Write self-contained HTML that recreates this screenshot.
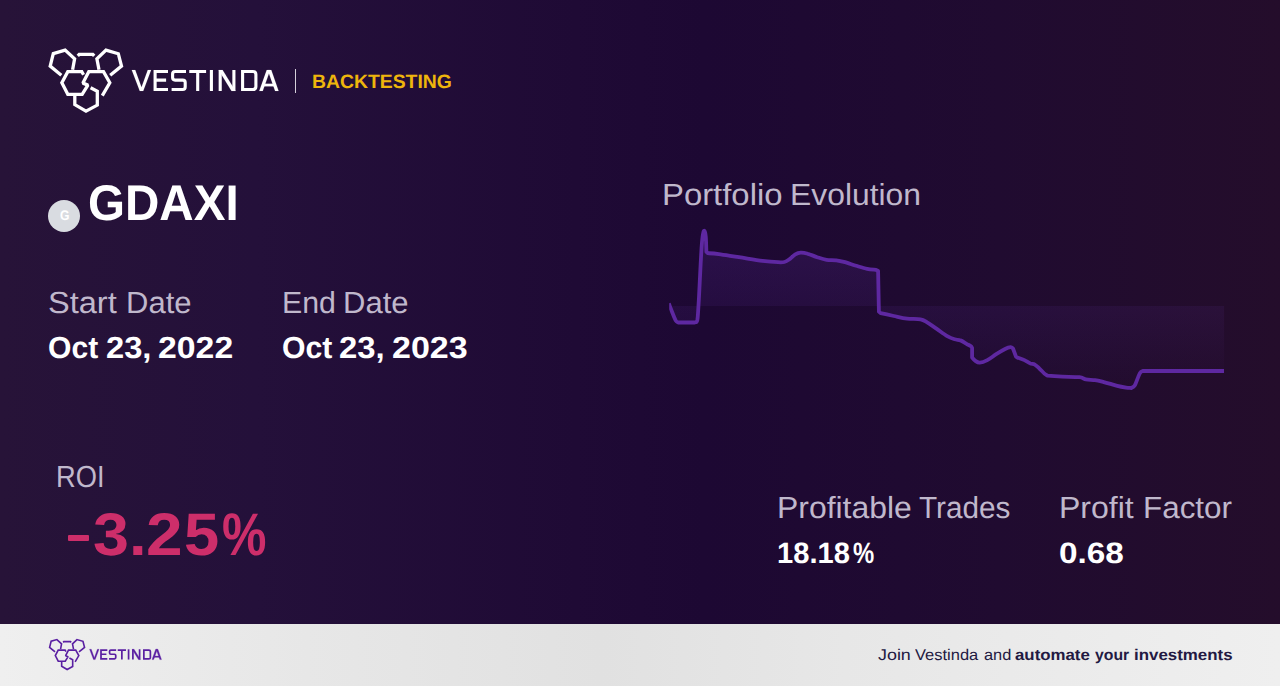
<!DOCTYPE html>
<html>
<head>
<meta charset="utf-8">
<title>Vestinda Backtesting - GDAXI</title>
<style>
*{margin:0;padding:0;box-sizing:border-box;}
html,body{width:1280px;height:686px;overflow:hidden;}
body{font-family:"Liberation Sans",sans-serif;position:relative;
background:linear-gradient(90deg,#271338 0%,#24103a 20%,#1f0a35 45%,#1d0833 55%,#200b30 78%,#240d2b 100%);}
.t{position:absolute;white-space:nowrap;line-height:1;transform-origin:0 0;z-index:2;text-rendering:geometricPrecision;}
.lbl{color:#bdb5c9;font-weight:400;}
.val{color:#ffffff;font-weight:700;}
#footer{position:absolute;left:0;top:624px;width:1280px;height:62px;
background:linear-gradient(90deg,#efefef 0%,#e7e7e7 24%,#e1e1e1 47%,#e7e7e7 66%,#efefef 100%);}
svg{position:absolute;overflow:visible;}
</style>
</head>
<body>

<!-- shared logo symbol -->
<svg width="0" height="0" style="left:0;top:0">
  <defs>
    <g id="vlogo">
      <g fill="none" stroke="currentColor" stroke-width="3.3" stroke-linejoin="miter" stroke-linecap="butt">
        <path d="M61.3 75.2 L50.2 66.1 L53.3 53.6 L65.1 50.1 L74.6 58.9 L72.6 69.7"/>
        <path d="M110.2 75.2 L121.5 66.1 L118.3 53.7 L106.0 50.1 L96.9 58.9 L99.0 69.7"/>
        <path d="M77.8 55.8 L79.2 54.3 L92.8 54.3 L94.2 55.8"/>
        <path stroke-miterlimit="1.3" d="M102.3 95.6 L109.8 82.8 L103.5 71.7 L88.8 71.7 L82.9 83.1 L87.9 85.1 L82.15 94.35 L67.8 94.35 L61.85 82.8 L67.8 71.7 L81.8 71.7 L83.55 74.75"/>
        <path d="M74.8 94.35 L74.8 104.6 L86 111.2 L97.3 105.1 L97.3 91.2 L90.6 87.7"/>
      </g>
      <g fill="currentColor" stroke="currentColor" style="stroke-width:var(--pw,0.1px)" stroke-linejoin="miter">
        <polygon points="131.75,70 135.25,70 141.5,87.25 147.75,70 151.1,70 143.25,91 139.75,91"/>
        <polygon points="218.6,70 222.6,70 235.5,91 231.5,91"/>
        <polygon points="259.25,91 262.75,91 270.2,70 266.7,70"/>
        <polygon points="278.6,91 275.1,91 267.7,70 271.3,70"/>
        <rect x="263.6" y="83.75" width="10.6" height="2.6"/>
      </g>
      <g fill="none" stroke="currentColor" style="stroke-width:var(--tw,3.1px)" stroke-linejoin="miter" stroke-linecap="butt">
        <path d="M168 71.5 H155.1 V89.5 H168 M155.1 80.1 H166.1"/>
        <path d="M186 71.5 H175.1 Q172.6 71.5 172.6 74 V77.6 Q172.6 80.1 175.1 80.1 H182.7 Q185.2 80.1 185.2 82.6 V87 Q185.2 89.5 182.7 89.5 H171.6"/>
        <path d="M189.25 71.5 H206.1 M197.7 71.5 V91"/>
        <path d="M211.4 70 V91"/>
        <path d="M220.2 91 V70 M233.9 70 V91"/>
        <path d="M242.6 71.5 H252.9 Q255.9 71.5 255.9 74.5 V86.5 Q255.9 89.5 252.9 89.5 H242.6 Z"/>
      </g>
    </g>
  </defs>
</svg>

<!-- header logo -->
<svg id="logo" style="left:0;top:0;color:#ffffff" width="300" height="130" viewBox="0 0 300 130"><use href="#vlogo"/></svg>

<div id="h_div" style="position:absolute;left:295px;top:69px;width:1px;height:24px;background:#d4cfda;"></div>

<!-- symbol -->
<div id="circ" style="position:absolute;left:48px;top:200px;width:32px;height:32px;border-radius:50%;background:#d9dce1;"></div>



<!--TEXT-->
<div class="t" id="h_back" style="left:311.60px;top:73.00px;font-size:19.4px;font-weight:700;color:#eeb50c;transform:scaleX(0.9988);">BACKTESTING</div>
<div class="t" id="sym" style="left:88.35px;top:178.00px;font-size:50px;font-weight:700;color:#ffffff;transform:scaleX(0.9514);">GDAXI</div>
<div class="t" id="circG" style="left:59.70px;top:209.00px;font-size:13.8px;font-weight:700;color:#ffffff;transform:scaleX(0.8800);">G</div>
<div class="t" id="sd_l1" style="left:47.99px;top:288.00px;font-size:30.5px;font-weight:400;color:#c0b8cc;transform:scaleX(1.0673);">Start</div>
<div class="t" id="sd_l2" style="left:125.77px;top:288.00px;font-size:30.5px;font-weight:400;color:#c0b8cc;transform:scaleX(1.0169);">Date</div>
<div class="t" id="ed_l1" style="left:281.71px;top:288.00px;font-size:30.5px;font-weight:400;color:#c0b8cc;transform:scaleX(0.9939);">End</div>
<div class="t" id="ed_l2" style="left:343.07px;top:288.00px;font-size:30.5px;font-weight:400;color:#c0b8cc;transform:scaleX(1.0169);">Date</div>
<div class="t" id="sd_v1" style="left:47.91px;top:333.00px;font-size:30.5px;font-weight:700;color:#ffffff;transform:scaleX(0.9862);">Oct</div>
<div class="t" id="sd_v2" style="left:105.93px;top:333.00px;font-size:30.5px;font-weight:700;color:#ffffff;transform:scaleX(1.0720);">23,</div>
<div class="t" id="sd_v3" style="left:158.09px;top:333.00px;font-size:30.5px;font-weight:700;color:#ffffff;transform:scaleX(1.1079);">2022</div>
<div class="t" id="ed_v1" style="left:281.61px;top:333.00px;font-size:30.5px;font-weight:700;color:#ffffff;transform:scaleX(0.9902);">Oct</div>
<div class="t" id="ed_v2" style="left:339.32px;top:333.00px;font-size:30.5px;font-weight:700;color:#ffffff;transform:scaleX(1.0770);">23,</div>
<div class="t" id="ed_v3" style="left:391.64px;top:333.00px;font-size:30.5px;font-weight:700;color:#ffffff;transform:scaleX(1.1148);">2023</div>
<div class="t" id="pe_l1" style="left:662.45px;top:180.00px;font-size:30.5px;font-weight:400;color:#c0b8cc;transform:scaleX(1.0769);">Portfolio</div>
<div class="t" id="pe_l2" style="left:790.41px;top:180.00px;font-size:30.5px;font-weight:400;color:#c0b8cc;transform:scaleX(1.0444);">Evolution</div>
<div class="t" id="roi_l" style="left:56.01px;top:462.00px;font-size:30.5px;font-weight:400;color:#c0b8cc;transform:scaleX(0.8945);">ROI</div>
<div class="t" id="roi_3" style="left:92.92px;top:505.00px;font-size:60px;font-weight:700;color:#cd2e6a;transform:scaleX(1.0774);">3</div>
<div class="t" id="roi_d" style="left:128.78px;top:505.00px;font-size:60px;font-weight:700;color:#cd2e6a;transform:scaleX(1.0556);">.</div>
<div class="t" id="roi_2" style="left:146.31px;top:505.00px;font-size:60px;font-weight:700;color:#cd2e6a;transform:scaleX(1.0966);">2</div>
<div class="t" id="roi_5" style="left:183.55px;top:505.00px;font-size:60px;font-weight:700;color:#cd2e6a;transform:scaleX(1.0548);">5</div>
<div class="t" id="roi_p" style="left:222.07px;top:505.00px;font-size:60px;font-weight:700;color:#cd2e6a;transform:scaleX(0.8333);">%</div>
<div class="t" id="pt_l1" style="left:777.16px;top:493.00px;font-size:30.5px;font-weight:400;color:#c0b8cc;transform:scaleX(1.0458);">Profitable</div>
<div class="t" id="pt_l2" style="left:918.75px;top:493.00px;font-size:30.5px;font-weight:400;color:#c0b8cc;transform:scaleX(0.9744);">Trades</div>
<div class="t" id="pt_v1" style="left:777.01px;top:539.00px;font-size:29.5px;font-weight:700;color:#ffffff;transform:scaleX(0.9874);">18.18</div>
<div class="t" id="pt_v2" style="left:852.50px;top:539.00px;font-size:29.5px;font-weight:700;color:#ffffff;transform:scaleX(0.8077);">%</div>
<div class="t" id="pf_l1" style="left:1058.60px;top:493.00px;font-size:30.5px;font-weight:400;color:#c0b8cc;transform:scaleX(1.0500);">Profit</div>
<div class="t" id="pf_l2" style="left:1142.94px;top:493.00px;font-size:30.5px;font-weight:400;color:#c0b8cc;transform:scaleX(1.0299);">Factor</div>
<div class="t" id="pf_v" style="left:1059.07px;top:539.00px;font-size:29.5px;font-weight:700;color:#ffffff;transform:scaleX(1.1302);">0.68</div>
<div class="t" id="f_t1" style="left:878.20px;top:648.00px;font-size:15.5px;font-weight:400;color:#231942;transform:scaleX(1.1541);">Join</div>
<div class="t" id="f_t2" style="left:915.00px;top:648.00px;font-size:15.5px;font-weight:400;color:#231942;transform:scaleX(1.0628);">Vestinda</div>
<div class="t" id="f_t3" style="left:983.60px;top:648.00px;font-size:15.5px;font-weight:400;color:#231942;transform:scaleX(1.0578);">and</div>
<div class="t" id="f_t4" style="left:1015.20px;top:648.00px;font-size:15.5px;font-weight:700;color:#231942;transform:scaleX(1.0854);">automate</div>
<div class="t" id="f_t5" style="left:1095.30px;top:648.00px;font-size:15.5px;font-weight:700;color:#231942;transform:scaleX(1.0162);">your</div>
<div class="t" id="f_t6" style="left:1133.51px;top:648.00px;font-size:15.5px;font-weight:700;color:#231942;transform:scaleX(1.0897);">investments</div>
<div id="roi_m" style="position:absolute;left:68px;top:534.5px;width:21.1px;height:6.8px;background:#cd2e6a;border-radius:1px;"></div>
<!--/TEXT-->

<!-- chart -->
<svg id="chart" style="left:0;top:0" width="1280" height="686" viewBox="0 0 1280 686">
  <defs>
    <linearGradient id="ag" x1="0" y1="229" x2="0" y2="388" gradientUnits="userSpaceOnUse">
      <stop offset="0" stop-color="#7a3fd0" stop-opacity="0.165"/>
      <stop offset="1" stop-color="#7a3fd0" stop-opacity="0"/>
    </linearGradient>
    <clipPath id="cc"><rect x="669.2" y="220" width="555" height="180"/></clipPath>
  </defs>
  <path id="area" fill="url(#ag)" stroke="none" d="M668.8 303.4 C669.3 304.8 670.9 309.0 672.0 311.8 C673.1 314.6 674.6 318.5 675.6 320.3 C676.6 322.1 677.8 322.1 678.2 322.5 L694.6 322.5 C695.0 322.1 696.6 323.1 697.3 320.2 C697.9 317.3 698.0 312.9 698.5 305.4 C699.0 297.8 699.6 284.8 700.1 274.9 C700.6 265.0 701.2 252.8 701.7 246.0 C702.2 239.2 702.5 236.5 703.0 234.0 C703.5 231.5 703.9 230.3 704.4 230.8 C704.9 231.3 705.5 233.5 705.8 237.0 C706.1 240.5 706.3 249.3 706.4 251.8 L708.0 253.2 C709.8 253.3 713.6 253.4 718.8 254.1 C723.9 254.8 731.7 256.1 739.0 257.2 C746.3 258.3 756.0 260.0 762.5 260.8 C769.0 261.6 774.5 262.0 778.1 262.2 C781.8 262.4 782.6 262.4 784.4 262.0 C786.2 261.6 787.3 260.8 789.1 259.5 C790.9 258.2 793.3 255.5 795.3 254.3 C797.2 253.2 798.7 252.7 800.8 252.6 C802.9 252.5 805.1 253.0 807.8 253.8 C810.5 254.5 814.1 256.2 817.2 257.2 C820.3 258.2 823.5 259.3 826.6 259.8 C829.7 260.3 833.0 260.0 835.9 260.4 C838.8 260.8 840.4 261.0 843.8 261.9 C847.1 262.8 852.3 264.6 856.2 265.8 C860.2 267.0 863.9 268.2 867.2 268.9 C870.5 269.6 874.5 269.6 876.0 269.8 L878.1 271.0 L878.9 311.6 L880.6 313.2 C882.8 313.7 889.3 315.1 893.8 316.0 C898.2 316.9 902.6 318.0 907.1 318.6 C911.6 319.1 917.2 318.7 920.5 319.3 C923.8 319.9 924.4 320.7 927.1 322.3 C929.8 323.9 933.4 326.6 936.8 328.9 C940.1 331.2 944.2 334.4 947.2 336.1 C950.2 337.8 952.4 338.6 954.6 339.3 C956.8 340.0 958.5 339.6 960.5 340.4 C962.5 341.1 964.7 342.8 966.5 343.8 C968.3 344.8 970.4 346.0 971.2 346.4 L972.1 348.0 L972.1 357.5 C972.6 358.1 974.1 360.0 975.4 360.9 C976.7 361.8 977.8 362.7 979.8 362.6 C981.8 362.5 984.6 361.5 987.3 360.1 C990.0 358.7 993.2 356.1 996.2 354.2 C999.2 352.3 1002.7 350.2 1005.1 349.0 C1007.5 347.8 1009.3 347.3 1010.6 347.2 C1011.9 347.1 1012.6 348.3 1013.0 348.5 L1016.0 356.6 L1017.5 357.6 C1018.6 358.0 1022.3 359.1 1024.4 360.1 C1026.5 361.1 1028.6 362.6 1030.3 363.4 C1032.0 364.1 1033.3 363.8 1034.8 364.6 C1036.3 365.4 1037.6 366.8 1039.2 368.3 C1040.8 369.8 1043.0 372.4 1044.4 373.6 C1045.8 374.8 1047.1 375.4 1047.6 375.7 C1050.0 375.9 1057.0 376.4 1062.3 376.7 C1067.6 376.9 1075.3 376.8 1079.3 377.2 C1083.2 377.6 1083.4 378.9 1086.0 379.4 C1088.6 379.9 1091.9 379.8 1094.9 380.2 C1097.9 380.6 1100.1 381.2 1103.8 382.1 C1107.5 383.0 1113.5 384.9 1117.2 385.8 C1120.9 386.7 1123.8 387.2 1126.1 387.6 C1128.4 388.0 1130.3 387.9 1131.2 388.0 L1133.4 386.8 C1133.7 386.4 1134.3 386.5 1135.2 384.6 C1136.1 382.8 1137.8 377.8 1138.7 375.7 C1139.6 373.6 1139.9 373.0 1140.6 372.2 C1141.2 371.4 1142.3 371.2 1142.6 371.0 L1224.1 371.0 L1224.1 305.9 L669.5 305.9 Z"/>
  <path id="line" clip-path="url(#cc)" fill="none" stroke="#5e28a1" stroke-width="3.8" stroke-linejoin="round" stroke-linecap="butt" d="M668.8 303.4 C669.3 304.8 670.9 309.0 672.0 311.8 C673.1 314.6 674.6 318.5 675.6 320.3 C676.6 322.1 677.8 322.1 678.2 322.5 L694.6 322.5 C695.0 322.1 696.6 323.1 697.3 320.2 C697.9 317.3 698.0 312.9 698.5 305.4 C699.0 297.8 699.6 284.8 700.1 274.9 C700.6 265.0 701.2 252.8 701.7 246.0 C702.2 239.2 702.5 236.5 703.0 234.0 C703.5 231.5 703.9 230.3 704.4 230.8 C704.9 231.3 705.5 233.5 705.8 237.0 C706.1 240.5 706.3 249.3 706.4 251.8 L708.0 253.2 C709.8 253.3 713.6 253.4 718.8 254.1 C723.9 254.8 731.7 256.1 739.0 257.2 C746.3 258.3 756.0 260.0 762.5 260.8 C769.0 261.6 774.5 262.0 778.1 262.2 C781.8 262.4 782.6 262.4 784.4 262.0 C786.2 261.6 787.3 260.8 789.1 259.5 C790.9 258.2 793.3 255.5 795.3 254.3 C797.2 253.2 798.7 252.7 800.8 252.6 C802.9 252.5 805.1 253.0 807.8 253.8 C810.5 254.5 814.1 256.2 817.2 257.2 C820.3 258.2 823.5 259.3 826.6 259.8 C829.7 260.3 833.0 260.0 835.9 260.4 C838.8 260.8 840.4 261.0 843.8 261.9 C847.1 262.8 852.3 264.6 856.2 265.8 C860.2 267.0 863.9 268.2 867.2 268.9 C870.5 269.6 874.5 269.6 876.0 269.8 L878.1 271.0 L878.9 311.6 L880.6 313.2 C882.8 313.7 889.3 315.1 893.8 316.0 C898.2 316.9 902.6 318.0 907.1 318.6 C911.6 319.1 917.2 318.7 920.5 319.3 C923.8 319.9 924.4 320.7 927.1 322.3 C929.8 323.9 933.4 326.6 936.8 328.9 C940.1 331.2 944.2 334.4 947.2 336.1 C950.2 337.8 952.4 338.6 954.6 339.3 C956.8 340.0 958.5 339.6 960.5 340.4 C962.5 341.1 964.7 342.8 966.5 343.8 C968.3 344.8 970.4 346.0 971.2 346.4 L972.1 348.0 L972.1 357.5 C972.6 358.1 974.1 360.0 975.4 360.9 C976.7 361.8 977.8 362.7 979.8 362.6 C981.8 362.5 984.6 361.5 987.3 360.1 C990.0 358.7 993.2 356.1 996.2 354.2 C999.2 352.3 1002.7 350.2 1005.1 349.0 C1007.5 347.8 1009.3 347.3 1010.6 347.2 C1011.9 347.1 1012.6 348.3 1013.0 348.5 L1016.0 356.6 L1017.5 357.6 C1018.6 358.0 1022.3 359.1 1024.4 360.1 C1026.5 361.1 1028.6 362.6 1030.3 363.4 C1032.0 364.1 1033.3 363.8 1034.8 364.6 C1036.3 365.4 1037.6 366.8 1039.2 368.3 C1040.8 369.8 1043.0 372.4 1044.4 373.6 C1045.8 374.8 1047.1 375.4 1047.6 375.7 C1050.0 375.9 1057.0 376.4 1062.3 376.7 C1067.6 376.9 1075.3 376.8 1079.3 377.2 C1083.2 377.6 1083.4 378.9 1086.0 379.4 C1088.6 379.9 1091.9 379.8 1094.9 380.2 C1097.9 380.6 1100.1 381.2 1103.8 382.1 C1107.5 383.0 1113.5 384.9 1117.2 385.8 C1120.9 386.7 1123.8 387.2 1126.1 387.6 C1128.4 388.0 1130.3 387.9 1131.2 388.0 L1133.4 386.8 C1133.7 386.4 1134.3 386.5 1135.2 384.6 C1136.1 382.8 1137.8 377.8 1138.7 375.7 C1139.6 373.6 1139.9 373.0 1140.6 372.2 C1141.2 371.4 1142.3 371.2 1142.6 371.0 L1224.1 371.0"/>
</svg>



<!-- footer -->
<div id="footer"></div>
<svg id="flogo" style="left:24.5px;top:615.2px;color:#5a1fa2;--tw:3.5px;--pw:0.6px" width="147" height="63.7" viewBox="0 0 300 130"><use href="#vlogo"/></svg>


</body>
</html>
